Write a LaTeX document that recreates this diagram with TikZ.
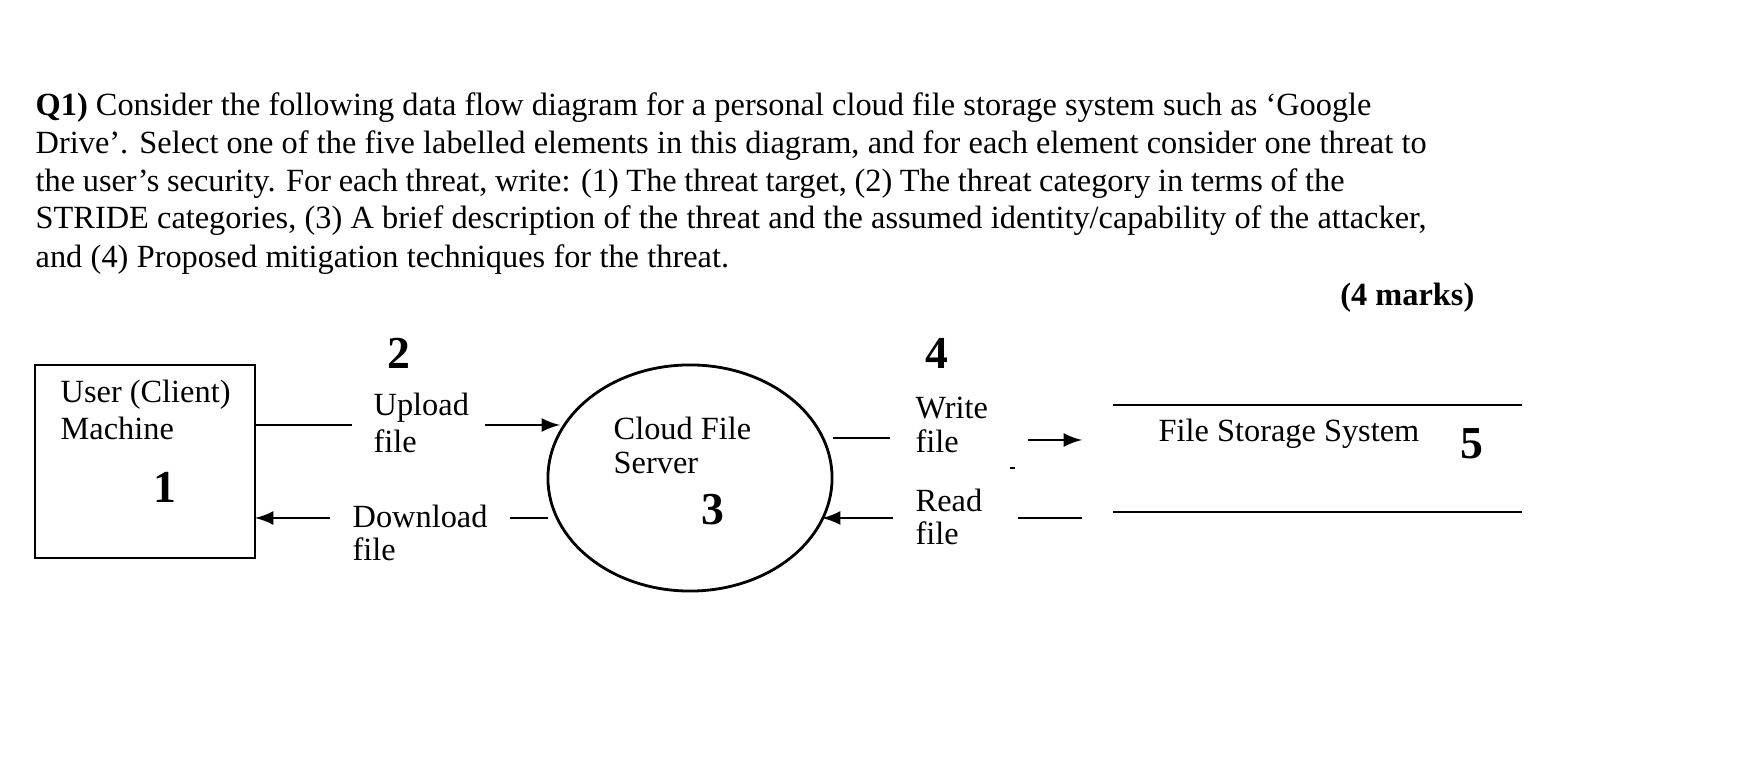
\documentclass[tikz,border=0pt]{standalone}
\usepackage{fontspec}
\setmainfont{Liberation Serif}
\usetikzlibrary{positioning,shapes.geometric}

\begin{document}
\begin{tikzpicture}[x=0.01cm, y=-0.01cm,
  txt/.style={anchor=west, inner sep=0pt, font=\fontsize{9.2}{11}\selectfont},
  num/.style={inner sep=0pt, font=\fontsize{13}{15}\selectfont\bfseries},
  flow/.style={-latex, thick}]
  \useasboundingbox (0,0) rectangle (1738,768);

  % Question text
  \node[txt] (l1) at (35,108) {\makebox[13.35cm][s]{\textbf{Q1)} Consider the following data flow diagram for a personal cloud file storage system such as `Google}};
  \node[txt] (l2) at (35,146) {\makebox[13.9cm][s]{Drive'. Select one of the five labelled elements in this diagram, and for each element consider one threat to}};
  \node[txt] (l3) at (35,184) {\makebox[13.08cm][s]{the user's security. For each threat, write: (1) The threat target, (2) The threat category in terms of the}};
  \node[txt] (l4) at (35,221) {\makebox[13.9cm][s]{STRIDE categories, (3) A brief description of the threat and the assumed identity/capability of the attacker,}};
  \node[txt] (l5) at (35,260) {\makebox[6.93cm][s]{and (4) Proposed mitigation techniques for the threat.}};
  \node[txt, anchor=east] (marks) at (1475,298) {\textbf{(4 marks)}};

  % Element 1: client
  \draw[thick] (35,365) rectangle (255,558);
  \node[txt] (user) at (60,395) {User (Client)};
  \node[txt] (mach) at (60,428) {Machine};
  \node[num] (n1) at (165,487) {1};

  % Element 2: upload / download
  \node[num] (n2) at (399,353) {2};
  \node[txt] (up) at (373,408) {Upload};
  \node[txt] (upf) at (373,441) {file};
  \node[txt] (down) at (352,516) {Download};
  \node[txt] (downf) at (352,549) {file};

  % Element 3: server
  \node[draw, thick, ellipse, minimum width=2.84cm, minimum height=2.26cm, inner sep=0pt] (srv) at (690,478) {};
  \node[txt] (cloud) at (613,428) {Cloud File};
  \node[txt] (serv) at (613,463) {Server};
  \node[num] (n3) at (713,510) {3};

  % Element 4: write / read
  \node[num] (n4) at (937,353) {4};
  \node[txt] (wr) at (915,408) {Write};
  \node[txt] (wrf) at (915,441) {file};
  \node[txt] (rd) at (915,500) {Read};
  \node[txt] (rdf) at (915,533) {file};

  % Element 5: store
  \draw[thick] (1113,405) -- (1522,405);
  \draw (1113,512) -- (1522,512);
  \node[txt] (store) at (1158,434) {File Storage System};
  \node[num] (n5) at (1472,444) {5};

  % Connectors
  \coordinate (a1) at (255,425); \coordinate (a2) at (352,425);
  \coordinate (a3) at (485,425); \coordinate (a4) at (560,425);
  \coordinate (b1) at (330,518); \coordinate (b2) at (255,518);
  \coordinate (b3) at (510,518); \coordinate (b4) at (548,518);
  \coordinate (c1) at (833,438); \coordinate (c2) at (890,438);
  \coordinate (c3) at (1028,440); \coordinate (c4) at (1082,440);
  \coordinate (d1) at (893,518); \coordinate (d2) at (822,518);
  \coordinate (d3) at (1018,518); \coordinate (d4) at (1082,518);
  \coordinate (e1) at (1010,468); \coordinate (e2) at (1015,468);
  \draw[thick] (a1) -- (a2);
  \draw[flow] (a3) -- (a4);
  \draw[flow] (b1) -- (b2);
  \draw[thick] (b3) -- (b4);
  \draw[thick] (c1) -- (c2);
  \draw[flow] (c3) -- (c4);
  \draw[flow] (d1) -- (d2);
  \draw[thick] (d3) -- (d4);
  \draw (e1) -- (e2);
\end{tikzpicture}
\end{document}
